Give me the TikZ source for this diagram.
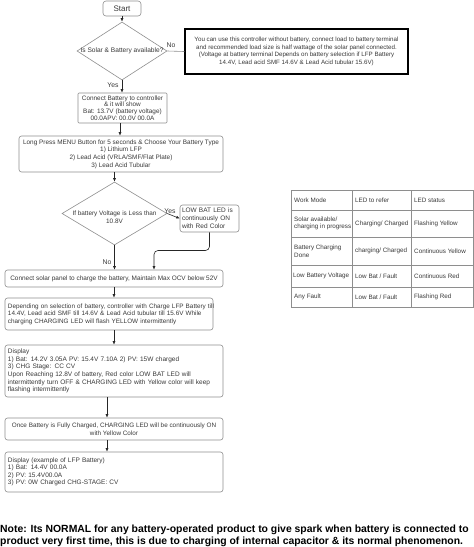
\documentclass[tikz,border=0pt]{standalone}
\usepackage{fontspec}
\setmainfont{Liberation Sans}
\usetikzlibrary{shapes.geometric,arrows.meta}
\definecolor{boxline}{HTML}{8E8E8E}
\definecolor{txt}{HTML}{383838}
\begin{document}
\begin{tikzpicture}[x=1pt,y=-1pt,
  box/.style={draw=boxline, line width=0.6pt, rounded corners=2.5pt, inner sep=2pt, text=txt, font=\fontsize{6.4}{7}\selectfont},
  cbox/.style={box, align=center},
  lbox/.style={box, align=left},
  dia/.style={draw=boxline, line width=0.6pt, diamond, inner sep=0pt},
  arr/.style={-{Latex[length=3.5pt,width=3pt]}, line width=0.6pt, black!85},
  lbl/.style={font=\fontsize{6.8}{8}\selectfont, text=txt, inner sep=0pt},
  tbl/.style={draw=boxline, line width=0.6pt},
  tcell/.style={font=\fontsize{6.3}{7.6}\selectfont, text=txt, inner sep=0pt, anchor=west, align=left}]
\useasboundingbox (0,0) rectangle (474,547);

% start and first decision
\node[cbox, minimum width=38pt, minimum height=15pt, rounded corners=3pt, font=\fontsize{8}{9}\selectfont] (start) at (122,8.5) {Start};
\node[dia, minimum width=90pt, minimum height=58pt] (d1) at (122,51) {};
\node[lbl, font=\fontsize{6.6}{7}\selectfont] (d1t) at (122,51) {Is Solar \& Battery available?};
\node[draw=black, line width=1.1pt, minimum width=223pt, minimum height=45pt, inner sep=0pt, align=center, text=txt, font=\fontsize{6.2}{7.5}\selectfont] (nb) at (296.5,51.5)
 {You can use this controller without battery, connect load to battery terminal\\
  and recommended load size is half wattage of the solar panel connected.\\
  (Voltage at battery terminal Depends on battery selection if LFP Battery\\
  14.4V, Lead acid SMF 14.6V \& Lead Acid tubular 15.6V)};
\draw[line width=0.6pt, boxline] (d1.east) -- (nb.west);
\node[lbl] (no1) at (171,45) {No};

\node[cbox, minimum width=89pt, minimum height=30pt, rounded corners=1pt, font=\fontsize{6.4}{6.6}\selectfont] (cb) at (122.5,108)
 {Connect Battery to controller\\ \& it will show\\ Bat: 13.7V (battery voltage)\\ 00.0APV: 00.0V 00.0A};
\draw[arr] (d1.south) -- (cb.north -| d1.south);
\node[lbl] (yes1) at (113,85) {Yes};

\node[cbox, minimum width=204pt, minimum height=36pt, font=\fontsize{6.4}{7.6}\selectfont] (lp) at (121,154)
 {Long Press MENU Button for 5 seconds \& Choose Your Battery Type\\
  1) Lithium LFP\\ 2) Lead Acid (VRLA/SMF/Flat Plate)\\ 3) Lead Acid Tubular};
\draw[arr] (start.south) -- (d1.north);
\draw[arr] (cb.south -| 120,0) -- (lp.north -| 120,0);

% second decision
\node[dia, minimum width=105pt, minimum height=63pt] (d2) at (114.5,213.5) {};
\node[lbl, align=center, font=\fontsize{6.4}{8.5}\selectfont] (d2t) at (114.5,217) {If battery Voltage is Less than\\ 10.8V};
\draw[arr] (lp.south -| d2.north) -- (d2.north);

\node[lbox, text width=55pt, minimum height=27pt, font=\fontsize{6.5}{8}\selectfont] (lb) at (209.5,218.5)
 {LOW BAT LED is\\ continuously ON\\ with Red Color};
\draw[arr] (d2.east) -- (lb.west);
\node[lbl] (yes2) at (170,211) {Yes};

\node[cbox, minimum width=218pt, minimum height=17pt, font=\fontsize{6.45}{7}\selectfont] (cs) at (114,278.5)
 {Connect solar panel to charge the battery, Maintain Max OCV below 52V};
\draw[arr] (d2.south) -- (cs.north -| d2.south);
\node[lbl] (no2) at (107,262) {No};
\coordinate (lbk) at (154,250.5);
\draw[arr, rounded corners=4pt] (lb.south) |- (lbk) -- (cs.north -| lbk);

\coordinate (colA) at (114,0);
\coordinate (colB) at (107,0);

\node[lbox, text width=202pt, minimum height=32pt, inner sep=3pt, font=\fontsize{6.35}{7.5}\selectfont] (dp) at (109,314)
 {\mbox{Depending on selection of battery, controller with Charge LFP Battery till}\\
  \mbox{14.4V, Lead acid SMF till 14.6V \& Lead Acid tubular till 15.6V While}\\
  \mbox{charging CHARGING LED will flash YELLOW intermittently}};
\draw[arr] (cs.south -| colA) -- (dp.north -| colA);

\node[lbox, text width=212pt, minimum height=52pt, inner sep=3pt, font=\fontsize{6.5}{7.6}\selectfont] (ds) at (114,371)
 {Display\\
  \mbox{1) Bat: 14.2V 3.05A PV: 15.4V 7.10A 2) PV: 15W charged}\\
  3) CHG Stage: CC CV\\
  \mbox{Upon Reaching 12.8V of battery, Red color LOW BAT LED will}\\
  \mbox{intermittently turn OFF \& CHARGING LED with Yellow color will keep}\\
  flashing intermittently};
\draw[arr] (dp.south -| colA) -- (ds.north -| colA);

\node[cbox, minimum width=218pt, minimum height=22pt, font=\fontsize{6.35}{7.6}\selectfont] (ob) at (114,429)
 {Once Battery is Fully Charged, CHARGING LED will be continuously ON\\ with Yellow Color};
\draw[arr] (ds.south -| colB) -- (ob.north -| colB);

\node[lbox, text width=212pt, minimum height=40pt, inner sep=3pt, font=\fontsize{6.5}{7.5}\selectfont] (lf) at (114,472)
 {Display (example of LFP Battery)\\ 1) Bat: 14.4V 00.0A\\ 2) PV: 15.4V00.0A\\ 3) PV: 0W Charged CHG-STAGE: CV};
\draw[arr] (ob.south -| colB) -- (lf.north -| colB);

% table
\draw[tbl] (291.5,190) rectangle (473,307);
\foreach \yy in {210,237,265,287} \draw[tbl] (291.5,\yy) -- (473,\yy);
\foreach \xx in {352.5,411} \draw[tbl] (\xx,190) -- (\xx,307);
\node[tcell] (h1) at (294,200) {Work Mode};
\node[tcell] (h2) at (355,200) {LED to refer};
\node[tcell] (h3) at (414,200) {LED status};
\node[tcell] (r11) at (294,223.5) {Solar available/\\ charging in progress};
\node[tcell] (r12) at (355,223.5) {Charging/ Charged};
\node[tcell] (r13) at (414,223.5) {Flashing Yellow};
\node[tcell] (r21) at (294,251) {Battery Charging\\ Done};
\node[tcell] (r22) at (355,251) {charging/ Charged};
\node[tcell] (r23) at (414,251) {Continuous Yellow};
\node[tcell] (r31) at (293,276) {Low Battery Voltage};
\node[tcell] (r32) at (355,276) {Low Bat / Fault};
\node[tcell] (r33) at (414,276) {Continuous Red};
\node[tcell] (r41) at (294,297) {Any Fault};
\node[tcell] (r42) at (355,297) {Low Bat / Fault};
\node[tcell] (r43) at (414,297) {Flashing Red};

% bottom note
\node[anchor=north west, inner sep=0pt, align=left, font=\bfseries\fontsize{10.4}{11.3}\selectfont] (note) at (0,525)
 {Note: Its NORMAL for any battery-operated product to give spark when battery is connected to\\
  product very first time, this is due to charging of internal capacitor \& its normal phenomenon.};
\end{tikzpicture}
\end{document}
